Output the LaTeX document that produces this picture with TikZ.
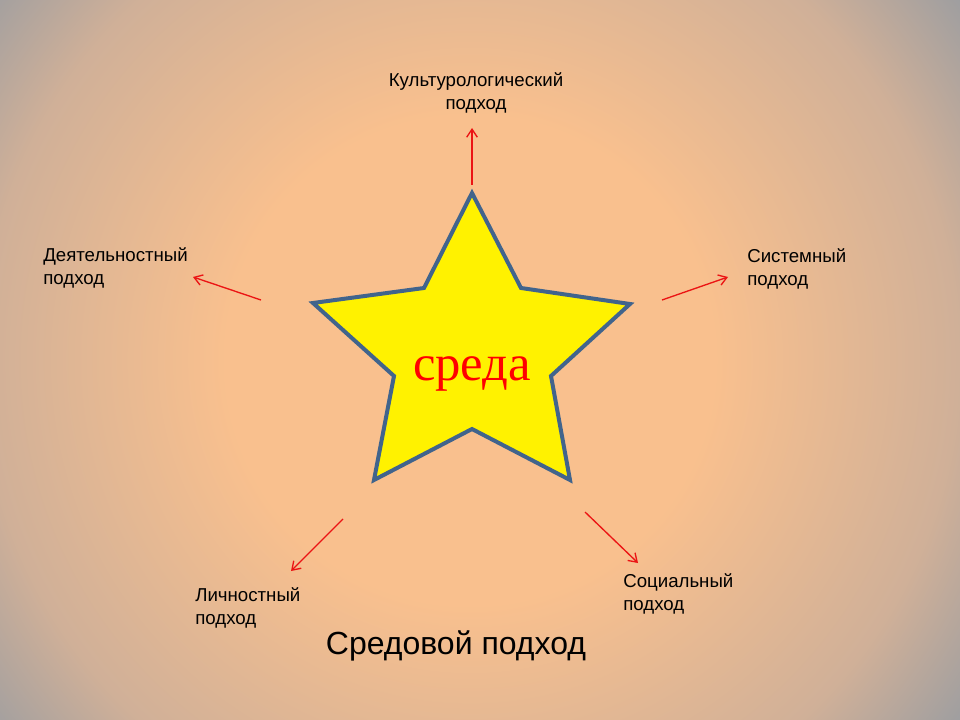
\documentclass[tikz,border=0pt]{standalone}
\usepackage{fontspec}
\setmainfont{Liberation Sans}
\newfontfamily\sredafont{Liberation Serif}
\usetikzlibrary{arrows.meta}

\definecolor{peach}{RGB}{249,192,142}
\definecolor{dustrose}{RGB}{208,176,152}
\definecolor{slate}{RGB}{158,158,160}
\definecolor{starline}{RGB}{65,100,140}
\definecolor{arrowred}{RGB}{235,20,20}
\pgfdeclareradialshading{glow}{\pgfpoint{0bp}{0bp}}{color(0bp)=(peach); color(10bp)=(peach); color(20bp)=(dustrose); color(25bp)=(slate); color(50bp)=(slate)}

\begin{document}
\begin{tikzpicture}[
    x=0.75pt, y=-0.75pt,
    approach/.style={font=\fontsize{14}{17}\selectfont, align=left, inner sep=0pt},
    arrow/.style={-{Straight Barb[length=6pt, width=8pt]}, arrowred, line width=1pt}
  ]
    % Background
    \useasboundingbox (0,0) rectangle (960,720);
    \begin{scope}
      \clip (0,0) rectangle (960,720);
      \shade[shading=glow] (470,360) circle (610);
    \end{scope}

    % Star
    \draw[starline, line width=3pt, fill=yellow] (472,193) -- (521,288) -- (630,304) -- (551,376) -- (570,480)
      -- (472,429) -- (374,480) -- (394,376) -- (313,303) -- (424,288) -- cycle;
    \node[font=\sredafont\fontsize{38}{42}\selectfont, text=red, anchor=base] (sreda) at (472,380) {среда};

    % Approaches
    \node[approach, align=center] (cult) at (476,93) {Культурологический\\подход};
    \node[approach, anchor=west] (deyat) at (43,268) {Деятельностный\\подход};
    \node[approach, anchor=west] (sist) at (747,269) {Системный\\подход};
    \node[approach, anchor=west] (lich) at (195,608) {Личностный\\подход};
    \node[approach, anchor=west] (soc) at (623,594) {Социальный\\подход};
    \node[font=\fontsize{24}{28}\selectfont, inner sep=0pt] (title) at (456,646) {Средовой подход};

    % Arrow ends
    \coordinate (cult-from) at (472,185);
    \coordinate (cult-to) at (472,128);
    \coordinate (deyat-from) at (261,300);
    \coordinate (deyat-to) at (193,277);
    \coordinate (sist-from) at (662,300);
    \coordinate (sist-to) at (728,277);
    \coordinate (lich-from) at (343,519);
    \coordinate (lich-to) at (291,571);
    \coordinate (soc-from) at (585,512);
    \coordinate (soc-to) at (638,563);

    % Arrows
    \draw[arrow] (cult-from) -- (cult-to);
    \draw[arrow] (deyat-from) -- (deyat-to);
    \draw[arrow] (sist-from) -- (sist-to);
    \draw[arrow] (lich-from) -- (lich-to);
    \draw[arrow] (soc-from) -- (soc-to);
\end{tikzpicture}
\end{document}
